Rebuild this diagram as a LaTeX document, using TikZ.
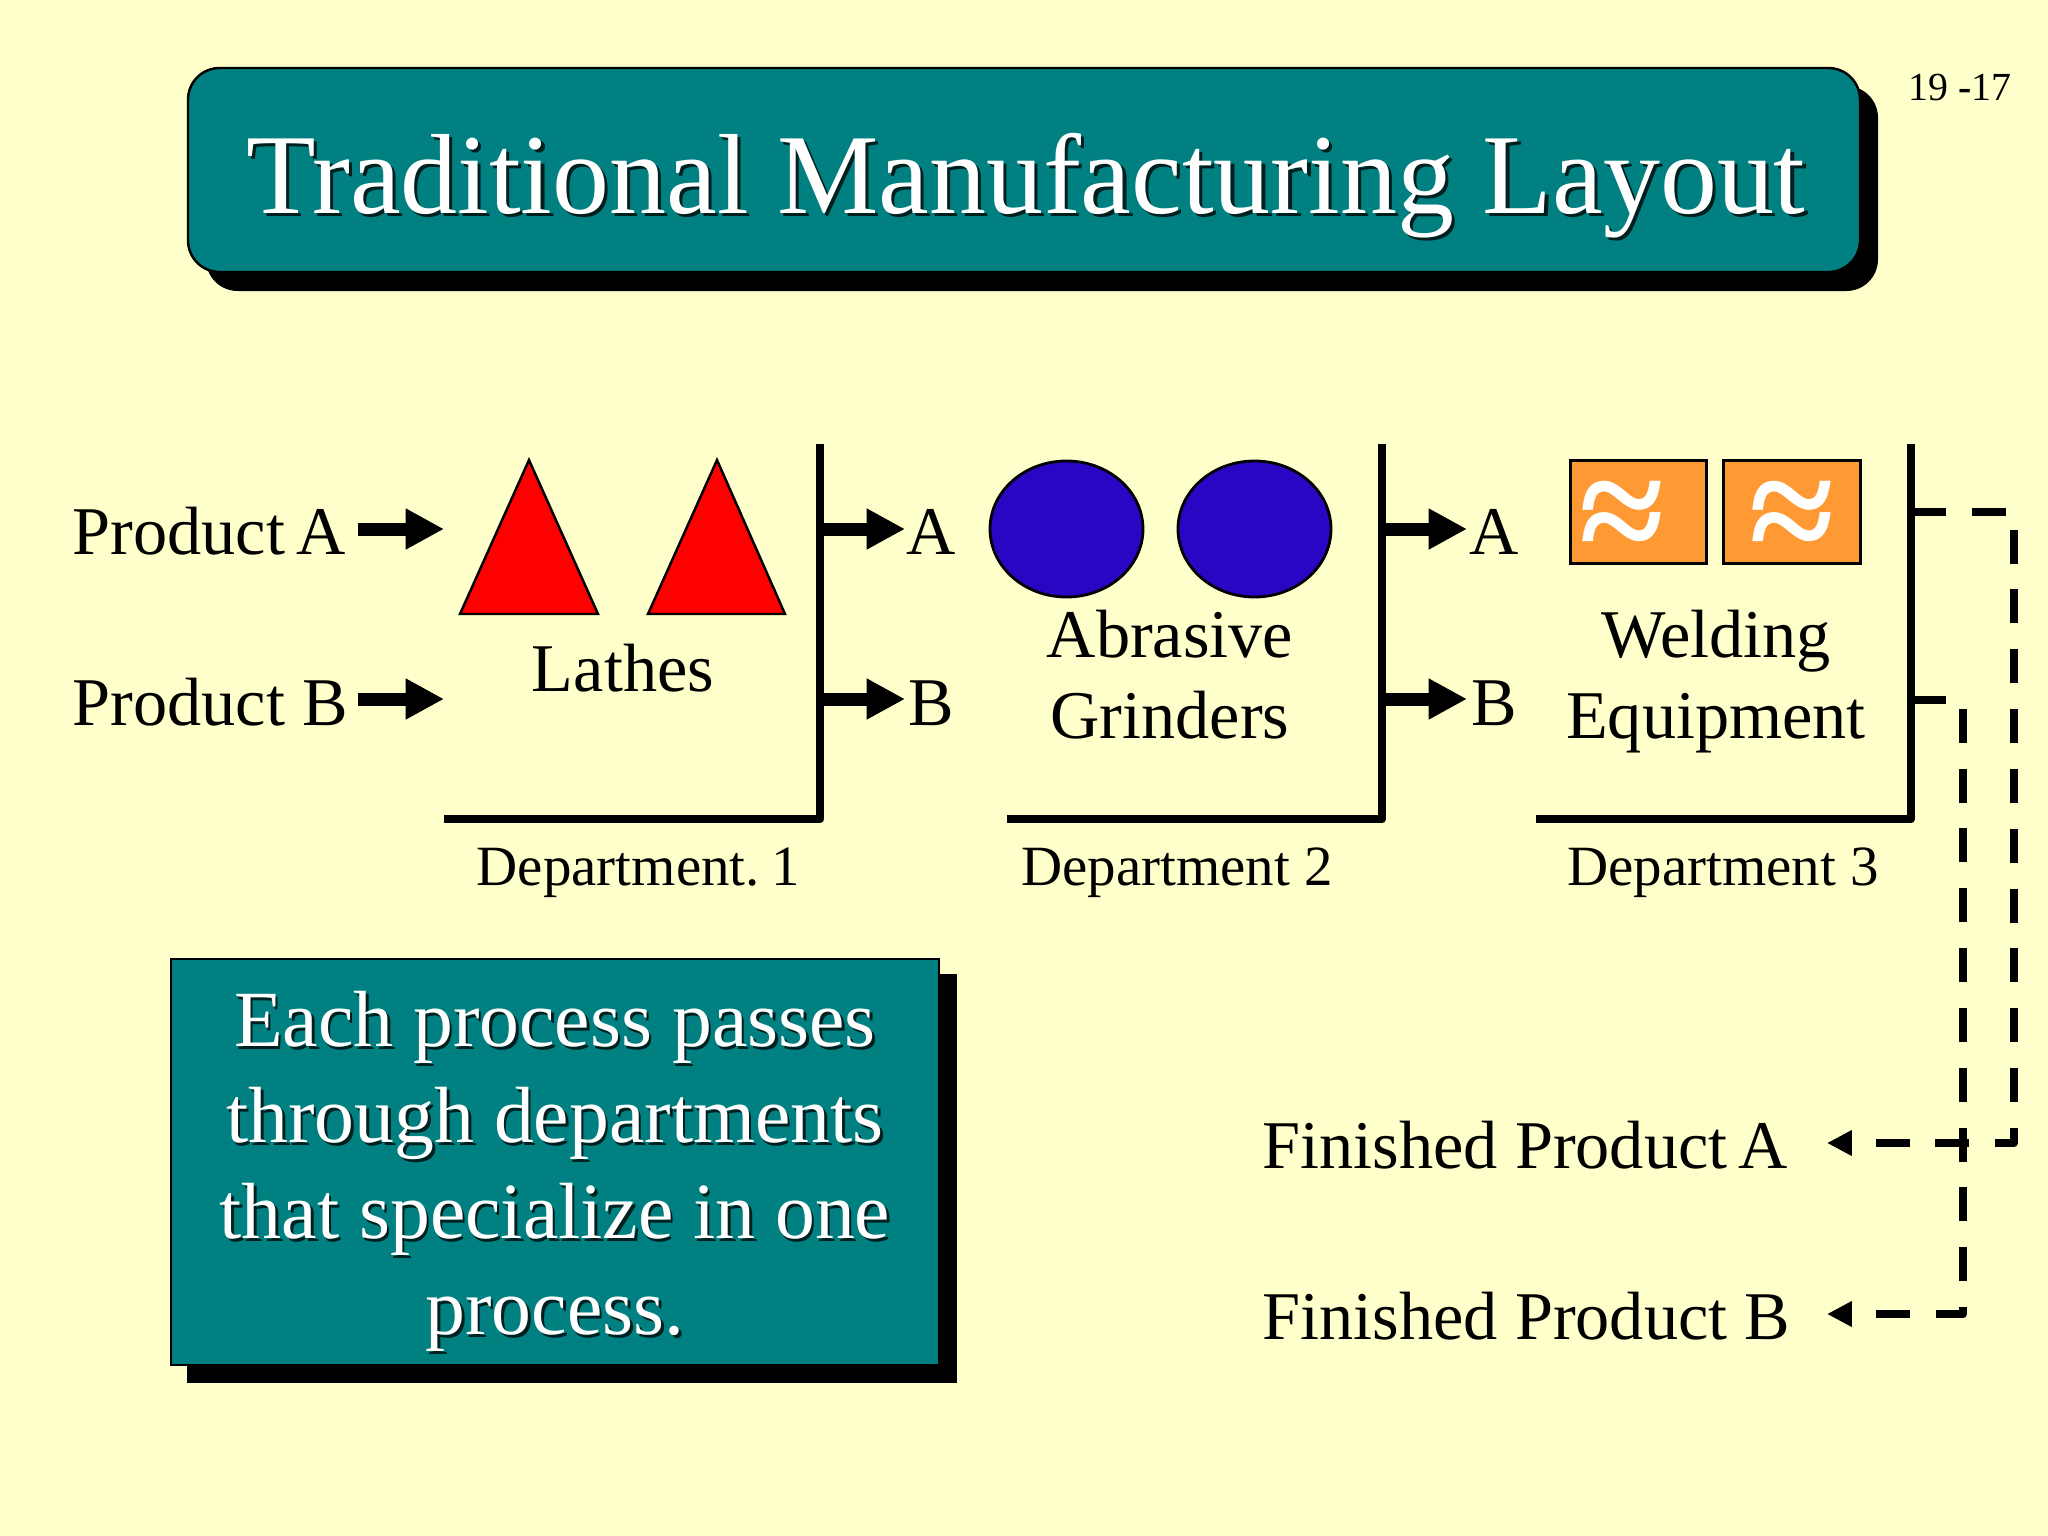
\documentclass[tikz,border=0pt]{standalone}
\usepackage{fontspec}
\setmainfont{Liberation Serif}
\usetikzlibrary{arrows.meta}
\definecolor{slidebg}{HTML}{FFFFCC}
\definecolor{slideteal}{HTML}{008080}
\definecolor{latheblue}{HTML}{2A05C4}
\definecolor{weldorange}{HTML}{FF9933}
\newcommand{\shadowed}[2][3.2]{\leavevmode\rlap{\kern#1\dimexpr0.2845pt\relax\lower#1\dimexpr0.2845pt\hbox{\color{black!75!slideteal}#2}}#2}
\tikzset{
  wall/.style = {line width=2.4pt, line join=round},
  flow/.style = {line width=3.7pt, -{Triangle[length=10.9pt,width=10.9pt]}},
  route/.style = {line width=2.4pt, line join=round, dash pattern=on 9.67pt off 7.34pt, -{Triangle[length=7.1pt,width=6.9pt]}},
  lathe/.style = {draw=black, fill=red, line width=0.7pt},
  grinder/.style = {draw=black, fill=latheblue, line width=0.8pt},
  welder/.style = {draw=black, fill=weldorange, line width=0.85pt},
  wave/.style = {text=white, inner sep=0pt, font=\bfseries\fontsize{44pt}{48pt}\selectfont},
  big/.style = {font=\fontsize{19.42pt}{23.05pt}\selectfont, inner sep=0pt, align=center},
  dept/.style = {font=\fontsize{16.19pt}{19pt}\selectfont, inner sep=0pt, anchor=base},
  panel/.style = {draw=black, fill=slideteal, line width=0.7pt},
  shade/.style = {fill=black}
}
\begin{document}
\begin{tikzpicture} [x=0.01cm, y=-0.01cm]
    \useasboundingbox [fill=slidebg] (0,0) rectangle (2048,1536);
    \fill [shade, rounded corners=9pt] (206,86) rectangle (1878,291);
    \draw [panel, rounded corners=9pt] (188,68) rectangle (1860,272);
    \node [anchor=base, text=white, font=\fontsize{32.4pt}{38pt}\selectfont, inner sep=0pt] (title) at (1026,213) {\shadowed{Traditional Manufacturing Layout}};
    \node [anchor=base, font=\fontsize{11.33pt}{13pt}\selectfont, inner sep=0pt] (page) at (1960,100) {19 \textbf{-}17};
    \node [big, anchor=base west] (prodA) at (72,554) {Product\hspace{-1.6pt} A};
    \node [big, anchor=base west] (prodB) at (72,725) {Product B};
    \coordinate (inA) at (358,529);
    \coordinate (inB) at (358,699);
    \coordinate (tipA) at (444,529);
    \coordinate (tipB) at (444,699);
    \draw [flow] (inA) -- (tipA);
    \draw [flow] (inB) -- (tipB);
    \draw [lathe] (529,460) -- (598,614) -- (460,614) -- cycle;
    \draw [lathe] (717,460) -- (785,614) -- (648,614) -- cycle;
    \node [big, anchor=base] (lathes) at (623,691) {Lathes};
    \draw [wall] (444,819) -- (820,819) -- (820,444);
    \node [dept] (dept1) at (638.5,885) {Department.\hspace{-2pt} 1};
    \node [big, anchor=base west] (outA1) at (906,554) {A};
    \node [big, anchor=base west] (outB1) at (908,725) {B};
    \coordinate (wallA1) at (820,529);
    \coordinate (wallB1) at (820,699);
    \coordinate (exitA1) at (905,529);
    \coordinate (exitB1) at (905,699);
    \draw [flow] (wallA1) -- (exitA1);
    \draw [flow] (wallB1) -- (exitB1);
    \draw [grinder] (1066.5,529) ellipse [x radius=76.5, y radius=68];
    \draw [grinder] (1254.5,529) ellipse [x radius=76.5, y radius=68];
    \node [big] (grinders) at (1170,675) {Abrasive\\Grinders};
    \draw [wall] (1007,819) -- (1382,819) -- (1382,444);
    \node [dept] (dept2) at (1177,885) {Department 2};
    \node [big, anchor=base west] (outA2) at (1469,554) {A};
    \node [big, anchor=base west] (outB2) at (1471,725) {B};
    \coordinate (wallA2) at (1382,529);
    \coordinate (wallB2) at (1382,699);
    \coordinate (exitA2) at (1467,529);
    \coordinate (exitB2) at (1467,699);
    \draw [flow] (wallA2) -- (exitA2);
    \draw [flow] (wallB2) -- (exitB2);
    \draw [welder] (1570,460) rectangle (1706,563);
    \draw [welder] (1723,460) rectangle (1860,563);
    \node [wave] (wave1) at (1622,522) {≈};
    \node [wave] (wave2) at (1792,522) {≈};
    \node [big] (welding) at (1716,682) {Welding\\Equipment};
    \draw [wall] (1536,819) -- (1911,819) -- (1911,444);
    \node [dept] (dept3) at (1723,885) {Department 3};
    \node [big, anchor=base west] (finA) at (1262,1168) {Finished Product\hspace{-1.6pt} A};
    \node [big, anchor=base west] (finB) at (1262,1339) {Finished Product B};
    \coordinate (wallA3) at (1912,512);
    \coordinate (wallB3) at (1912,700);
    \coordinate (endA) at (1827,1143);
    \coordinate (endB) at (1827,1314);
    \draw [route] (wallA3) -- (2014,512) -- (2014,1143) -- (endA);
    \draw [route] (wallB3) -- (1963,700) -- (1963,1314) -- (endB);
    \fill [shade] (187,974) rectangle (957,1383);
    \draw [panel] (171,959) rectangle (939,1365);
    \node [align=center, text=white, inner sep=0pt, font=\fontsize{22.66pt}{27.3pt}\selectfont] (note) at (555,1173) {\shadowed[2.6]{Each process passes}\\\shadowed[2.6]{through departments}\\\shadowed[2.6]{that specialize in one}\\\shadowed[2.6]{process.}};
  \end{tikzpicture}
\end{document}
